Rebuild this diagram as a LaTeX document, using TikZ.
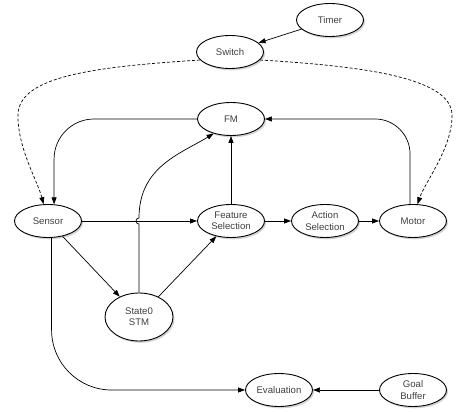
\documentclass[tikz,border=0pt]{standalone}
\usepackage{fontspec}
\setmainfont{Liberation Sans}
\usetikzlibrary{shapes,arrows.meta,shadows,calc}

\begin{document}
\begin{tikzpicture}
  [
    x=1pt, y=1pt,
    unit/.style =
      {draw, ellipse, fill=white, line width=0.9pt, inner sep=0pt, align=center,
       minimum width=67pt, minimum height=33pt, text=black!75,
       font=\fontsize{9.6}{11.2}\selectfont,
       drop shadow={shadow xshift=1.5pt, shadow yshift=-1.8pt, opacity=0.35}},
    sarrow/.style =
      {->, >={Triangle[length=7pt, width=5pt]}, line width=0.7pt},
    darrow/.style =
      {sarrow, dash pattern=on 3pt off 2pt}
  ]

\useasboundingbox (0,0) rectangle (474,412);

\node[unit] (timer)  at (330,392) {Timer};
\node[unit] (switch) at (230,360) {Switch};
\node[unit] (fm)     at (231,293) {FM};
\node[unit] (sensor) at (48,191)  {Sensor};
\node[unit] (featsel) at (231,191) {Feature\\Selection};
\node[unit] (actsel) at (325,191) {Action\\Selection};
\node[unit] (motor)  at (413,191) {Motor};
\node[unit, minimum width=68pt, minimum height=48pt] (stm) at (139,95) {State0\\STM};
\node[unit] (eval)   at (279,22)  {Evaluation};
\node[unit] (goal)   at (413,22)  {Goal\\Buffer};

\draw [sarrow] (timer) -- (switch);

% switch lines
\draw [darrow] (switch.195) .. controls (90,345) and (20,335) .. (18,298)
  .. controls (17,265) and (38,230) .. (sensor.105);
\draw [darrow] (switch.345) .. controls (360,346) and (450,335) .. (452,298)
  .. controls (453,265) and (425,230) .. (motor.75);

% feedback through FM
\draw [sarrow, rounded corners=40pt] (fm.west) -| (sensor.70);
\draw [sarrow, rounded corners=35pt] (motor.100) |- (fm.east);
\draw [sarrow] (featsel) -- (fm);
\draw [sarrow] (stm.north) -- (139,188) arc[start angle=270, end angle=90, radius=3]
  .. controls (139,245) and (180,258) .. (fm.220);

\draw [sarrow] (sensor) -- (featsel);
\draw [sarrow] (sensor) -- (stm);
\draw [sarrow] (stm) -- (featsel);
\draw [sarrow] (featsel) -- (actsel);
\draw [sarrow] (actsel) -- (motor);

\draw [sarrow, rounded corners=60pt] (sensor.282) |- (eval.west);
\draw [sarrow] (goal) -- (eval);

\end{tikzpicture}
\end{document}
